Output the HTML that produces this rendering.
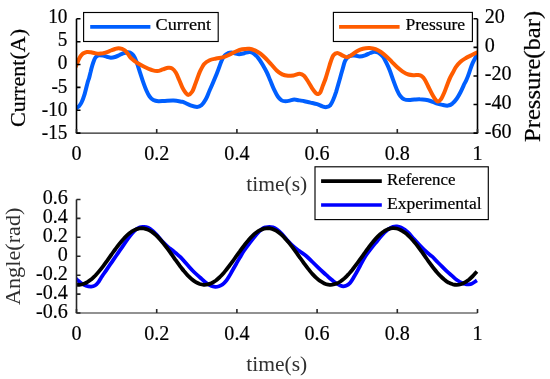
<!DOCTYPE html>
<html><head><meta charset="utf-8"><title>Current, Pressure and Angle</title>
<style>html,body{margin:0;padding:0;background:#fff}svg{display:block}text{font-family:"Liberation Serif",serif;stroke-width:.2px;paint-order:stroke}</style></head>
<body>
<svg width="550" height="379" viewBox="0 0 550 379">
<rect width="550" height="379" fill="#fff"/>
<clipPath id="c1"><rect x="76.8" y="10" width="400.9" height="125"/></clipPath><g fill="none" stroke-width="4" stroke-linejoin="round" clip-path="url(#c1)">
<path d="M75.3 108.3C75.6 108.2 76.5 107.9 77.1 107.6C77.7 107.2 78.3 107.0 79.0 106.2C79.7 105.4 80.5 104.6 81.5 102.5C82.5 100.4 83.7 97.1 84.7 93.8C85.7 90.5 86.8 85.5 87.5 82.9C88.2 80.3 88.6 79.8 89.1 78.0C89.6 76.2 90.0 74.2 90.6 72.0C91.1 69.8 91.8 67.0 92.4 65.1C93.0 63.2 93.5 61.8 94.0 60.5C94.5 59.2 95.0 58.2 95.6 57.4C96.2 56.6 96.9 56.1 97.5 55.8C98.1 55.4 98.5 55.3 99.4 55.3C100.3 55.3 101.7 55.4 103.0 55.6C104.3 55.9 105.7 56.4 107.0 56.8C108.3 57.1 109.6 57.7 110.9 57.7C112.2 57.7 113.7 57.4 115.0 57.0C116.3 56.6 117.7 55.9 119.0 55.3C120.3 54.7 121.6 53.9 123.0 53.4C124.4 52.9 126.1 52.4 127.3 52.2C128.5 52.1 129.0 52.0 130.0 52.5C131.0 53.0 132.2 53.8 133.3 55.3C134.4 56.8 135.4 59.0 136.5 61.8C137.6 64.5 138.7 68.5 139.8 71.8C140.9 75.1 142.0 78.7 143.1 81.8C144.2 84.9 145.3 88.0 146.4 90.5C147.5 93.0 148.4 94.9 149.6 96.5C150.8 98.1 151.9 99.3 153.4 100.1C154.9 100.9 156.5 101.1 158.4 101.2C160.3 101.3 162.4 101.0 164.9 100.9C167.4 100.8 170.9 100.5 173.6 100.6C176.3 100.7 179.6 101.4 181.3 101.7C183.0 102.0 182.5 101.7 184.0 102.3C185.5 102.9 188.3 104.5 190.5 105.3C192.7 106.1 195.3 106.9 197.1 106.9C198.9 106.9 199.9 106.6 201.4 105.3C202.9 104.0 204.4 101.8 205.8 99.3C207.2 96.8 208.3 93.4 209.6 90.5C210.9 87.6 212.1 85.0 213.4 81.8C214.7 78.6 216.2 75.0 217.6 71.5C219.0 68.0 220.4 63.4 221.6 60.7C222.8 58.0 223.8 56.6 224.9 55.3C226.0 54.0 227.1 53.6 228.2 53.1C229.3 52.6 230.3 52.5 231.4 52.5C232.5 52.5 233.7 52.9 235.0 53.2C236.3 53.5 237.5 54.2 239.1 54.2C240.7 54.2 242.6 53.6 244.3 53.2C246.0 52.8 247.9 51.9 249.5 52.0C251.1 52.1 252.4 52.6 253.8 53.6C255.2 54.6 256.8 56.2 258.2 58.0C259.6 59.8 261.1 62.1 262.5 64.5C263.9 66.9 265.6 69.9 266.9 72.5C268.2 75.1 269.0 77.5 270.2 80.3C271.4 83.1 272.7 86.7 274.0 89.4C275.3 92.1 276.5 94.7 277.8 96.5C279.1 98.3 280.3 99.6 281.6 100.4C282.9 101.2 284.0 101.2 285.4 101.2C286.8 101.2 288.3 100.9 289.8 100.6C291.3 100.3 292.6 99.6 294.2 99.6C295.8 99.6 297.9 100.1 299.6 100.4C301.3 100.7 302.7 100.9 304.5 101.3C306.3 101.7 308.4 102.1 310.5 102.6C312.6 103.1 315.1 103.6 317.1 104.2C319.1 104.8 320.9 105.9 322.5 106.4C324.1 106.9 325.1 107.3 326.4 107.1C327.7 106.9 329.0 106.6 330.2 105.3C331.4 104.0 332.4 101.6 333.4 99.3C334.4 97.0 335.2 94.6 336.2 91.6C337.1 88.6 338.1 85.0 339.1 81.5C340.1 78.0 341.2 73.9 342.2 70.5C343.2 67.1 344.0 63.5 344.9 61.3C345.8 59.1 346.7 58.3 347.6 57.4C348.5 56.5 349.4 56.1 350.5 55.8C351.6 55.5 352.7 55.4 354.2 55.5C355.7 55.6 357.8 56.4 359.6 56.4C361.4 56.4 363.3 55.9 365.1 55.3C366.9 54.7 368.8 53.6 370.3 53.0C371.9 52.4 373.0 51.8 374.4 51.8C375.8 51.8 377.2 52.0 378.7 52.9C380.1 53.8 381.8 55.2 383.1 56.9C384.4 58.6 385.3 60.7 386.4 62.9C387.5 65.1 388.4 67.0 389.6 70.0C390.8 73.0 392.3 77.6 393.5 80.9C394.7 84.2 395.9 87.5 397.0 90.0C398.1 92.5 399.1 94.5 400.3 96.0C401.5 97.5 402.7 98.6 404.1 99.3C405.6 100.0 407.3 100.1 409.0 100.1C410.7 100.1 412.6 99.6 414.4 99.5C416.2 99.4 418.1 99.2 419.9 99.3C421.7 99.3 423.5 99.5 425.3 99.8C427.1 100.1 428.6 100.4 430.5 101.0C432.4 101.6 434.4 102.6 436.4 103.3C438.4 104.0 440.5 104.5 442.4 104.9C444.3 105.3 446.3 105.8 448.0 105.6C449.7 105.4 450.9 104.8 452.4 103.6C453.8 102.4 455.3 100.6 456.7 98.7C458.1 96.8 459.3 94.5 460.5 92.2C461.7 89.9 462.8 87.3 463.8 85.1C464.9 82.9 465.9 81.2 466.8 79.0C467.8 76.8 468.6 74.4 469.5 71.8C470.4 69.2 471.5 65.7 472.5 63.4C473.5 61.1 474.5 59.5 475.3 58.0C476.1 56.5 476.5 55.7 477.1 54.7C477.7 53.7 478.5 52.3 478.8 51.8" stroke="#005fff"/>
<path d="M75.5 67.3C75.8 66.6 76.6 64.6 77.1 63.4C77.6 62.2 78.0 61.2 78.5 60.0C79.0 58.8 79.7 57.5 80.4 56.4C81.2 55.3 81.9 54.2 83.0 53.5C84.1 52.8 85.6 52.2 86.9 52.0C88.2 51.8 89.7 52.1 91.0 52.3C92.3 52.5 93.7 53.0 95.0 53.2C96.3 53.4 97.6 53.7 98.9 53.7C100.2 53.7 101.7 53.5 103.0 53.3C104.3 53.0 105.7 52.7 107.0 52.2C108.3 51.7 109.7 51.0 111.0 50.5C112.3 50.0 113.8 49.4 115.0 49.0C116.2 48.6 117.3 48.2 118.5 48.2C119.7 48.2 120.9 48.4 122.0 48.8C123.1 49.2 124.0 49.7 125.0 50.6C126.0 51.5 127.2 53.0 128.0 54.0C128.8 55.0 129.2 55.9 130.0 56.9C130.8 57.9 131.9 58.9 133.0 59.8C134.1 60.7 134.6 61.2 136.5 62.4C138.4 63.5 141.6 65.4 144.2 66.7C146.8 68.0 149.6 69.3 151.8 70.0C154.0 70.7 155.5 71.2 157.3 71.1C159.1 71.0 160.9 70.0 162.7 69.4C164.5 68.9 166.6 68.0 168.2 67.8C169.8 67.6 170.7 67.6 172.0 68.4C173.3 69.2 174.6 70.6 175.8 72.5C177.0 74.4 178.0 77.3 179.1 79.8C180.2 82.3 181.2 85.1 182.3 87.3C183.4 89.5 184.6 91.4 185.6 92.7C186.6 94.0 187.3 95.1 188.4 94.9C189.5 94.7 191.1 93.2 192.2 91.6C193.3 90.0 194.1 87.3 194.9 85.1C195.8 82.9 196.5 80.7 197.3 78.5C198.1 76.3 198.7 74.2 199.8 71.8C201.0 69.4 202.6 65.9 204.2 64.0C205.8 62.1 207.6 61.1 209.6 60.2C211.6 59.3 214.0 59.0 216.2 58.5C218.4 58.0 220.5 58.0 222.7 57.4C224.9 56.8 227.1 55.7 229.3 54.7C231.5 53.7 233.6 52.4 235.8 51.5C238.0 50.6 240.0 49.8 242.3 49.3C244.6 48.8 247.4 48.5 249.5 48.7C251.6 48.9 253.1 49.6 254.9 50.4C256.7 51.2 258.6 52.2 260.4 53.6C262.2 55.0 264.0 56.7 265.8 58.5C267.6 60.3 269.5 62.5 271.3 64.5C273.1 66.5 274.9 68.8 276.7 70.5C278.5 72.2 280.3 73.5 282.2 74.4C284.1 75.3 286.1 75.6 288.0 75.8C289.9 76.0 291.6 75.7 293.5 75.4C295.4 75.1 297.9 73.7 299.6 73.8C301.4 73.9 302.6 74.5 304.0 75.8C305.4 77.1 306.9 79.6 308.3 81.8C309.8 84.0 311.4 87.3 312.7 89.2C314.0 91.1 315.1 92.5 316.0 93.3C316.9 94.1 317.3 94.2 318.0 94.0C318.7 93.8 319.5 93.7 320.4 92.2C321.2 90.7 322.2 87.4 323.1 85.1C324.0 82.8 324.8 80.9 325.6 78.5C326.4 76.1 327.1 73.3 328.0 70.5C328.9 67.7 329.8 64.3 330.7 61.8C331.6 59.3 332.3 56.8 333.4 55.3C334.5 53.8 335.8 52.9 337.3 52.9C338.8 52.9 340.6 54.6 342.2 55.3C343.8 56.0 345.5 57.3 347.1 57.2C348.7 57.1 350.3 55.8 352.0 54.7C353.7 53.7 355.6 51.9 357.4 50.9C359.2 49.9 360.8 49.2 362.9 48.7C364.9 48.2 367.6 47.9 369.7 48.0C371.8 48.1 373.6 48.4 375.5 49.1C377.4 49.8 379.1 50.8 380.9 52.0C382.7 53.2 384.6 54.8 386.4 56.4C388.2 58.0 390.0 60.0 391.8 61.8C393.6 63.6 395.5 65.7 397.3 67.3C399.1 68.9 400.8 70.4 402.7 71.6C404.6 72.8 406.6 73.9 408.5 74.5C410.4 75.1 412.4 75.1 414.0 75.2C415.6 75.3 417.1 74.8 418.4 75.0C419.7 75.2 420.6 75.4 421.7 76.2C422.8 77.0 423.9 78.2 425.0 80.0C426.1 81.8 427.5 85.0 428.6 87.3C429.8 89.6 430.8 91.8 431.9 93.8C433.0 95.8 434.2 98.0 435.2 99.3C436.2 100.6 437.1 101.5 438.0 101.6C438.9 101.6 439.9 100.4 440.6 99.6C441.3 98.8 441.7 98.0 442.3 96.8C442.9 95.6 443.6 94.1 444.3 92.5C445.0 90.9 445.7 88.8 446.4 87.0C447.1 85.2 447.7 83.6 448.3 82.0C448.9 80.4 449.4 79.1 450.2 77.5C451.0 75.9 451.9 74.3 452.9 72.5C453.9 70.7 454.9 68.5 456.2 66.7C457.5 64.9 458.9 63.2 460.5 61.8C462.1 60.3 464.2 59.1 466.0 58.0C467.8 56.9 469.6 56.2 471.4 55.3C473.2 54.4 475.6 53.1 476.9 52.5C478.2 51.9 478.6 51.6 479.0 51.4" stroke="#ff5c00"/>
</g>
<g fill="none" stroke-width="1.6">
<path d="M75.8 133.1H478.2" stroke="#262626" stroke-width="1.1"/>
<path d="M76.5 18.8V133.1" stroke="#000"/>
<path d="M477.5 18.8V133.1" stroke="#000"/>
<path d="M76.5 133.1v-4M156.7 133.1v-4M236.9 133.1v-4M317.1 133.1v-4M397.3 133.1v-4M477.5 133.1v-4" stroke="#262626"/>
<path d="M76.5 18.8h4M76.5 41.7h4M76.5 64.5h4M76.5 87.4h4M76.5 110.2h4M76.5 133.1h4M477.5 18.8h-4M477.5 47.4h-4M477.5 76.0h-4M477.5 104.5h-4M477.5 133.1h-4" stroke="#000"/>
</g>
<rect x="83.6" y="12.5" width="134.6" height="29" fill="#fff" stroke="#000" stroke-width="1.15"/>
<path d="M90.2 26.9H150.4" stroke="#005fff" stroke-width="3.7"/>
<text x="155.5" y="30.4" font-size="17.2" textLength="55.7" lengthAdjust="spacingAndGlyphs" fill="#000" stroke="#000">Current</text>
<rect x="333.4" y="12.4" width="139" height="29.1" fill="#fff" stroke="#000" stroke-width="1.15"/>
<path d="M339.1 26.9H399.6" stroke="#ff5c00" stroke-width="3.7"/>
<text x="405.4" y="30.3" font-size="17.2" textLength="59.8" lengthAdjust="spacingAndGlyphs" fill="#000" stroke="#000">Pressure</text>
<g font-size="20.5" fill="#000" text-anchor="end" stroke="#000">
<text transform="translate(67.5 23.1) scale(.94 1)" fill="#000" stroke="#000">10</text>
<text transform="translate(67.5 46.2) scale(.94 1)" fill="#000" stroke="#000">5</text>
<text transform="translate(67.5 69.3) scale(.94 1)" fill="#000" stroke="#000">0</text>
<text transform="translate(67.5 92.5) scale(.94 1)" fill="#000" stroke="#000">-5</text>
<text transform="translate(67.5 115.6) scale(.94 1)" fill="#000" stroke="#000">-10</text>
<text transform="translate(67.5 138.7) scale(.94 1)" fill="#000" stroke="#000">-15</text>
</g>
<g font-size="20.5" fill="#000" stroke="#000">
<text transform="translate(484.8 23.2) scale(.98 1)" fill="#000" stroke="#000">20</text>
<text transform="translate(484.8 51.8) scale(.98 1)" fill="#000" stroke="#000">0</text>
<text transform="translate(484.8 80.4) scale(.98 1)" fill="#000" stroke="#000">-20</text>
<text transform="translate(484.8 108.9) scale(.98 1)" fill="#000" stroke="#000">-40</text>
<text transform="translate(484.8 137.5) scale(.98 1)" fill="#000" stroke="#000">-60</text>
</g>
<g font-size="21.2" fill="#303030" text-anchor="middle">
<text transform="translate(76.5 159.8) scale(.95 1)" fill="#000" stroke="#000">0</text>
<text transform="translate(156.7 159.8) scale(.95 1)" fill="#000" stroke="#000">0.2</text>
<text transform="translate(236.9 159.8) scale(.95 1)" fill="#000" stroke="#000">0.4</text>
<text transform="translate(317.1 159.8) scale(.95 1)" fill="#000" stroke="#000">0.6</text>
<text transform="translate(397.3 159.8) scale(.95 1)" fill="#000" stroke="#000">0.8</text>
<text transform="translate(477.5 159.8) scale(.95 1)" fill="#000" stroke="#000">1</text>
</g>
<text x="276.8" y="191.3" font-size="21.5" fill="#303030" text-anchor="middle" textLength="61" lengthAdjust="spacingAndGlyphs">time(s)</text>
<text transform="translate(24.6 78) rotate(-90)" font-size="21.3" fill="#000" text-anchor="middle" textLength="98" lengthAdjust="spacingAndGlyphs" stroke="#000">Current(A)</text>
<text transform="translate(539.6 76.4) rotate(-90)" font-size="23" fill="#000" text-anchor="middle" textLength="131" lengthAdjust="spacingAndGlyphs" stroke="#000">Pressure(bar)</text>
<clipPath id="c2"><rect x="76.8" y="190" width="420" height="125"/></clipPath><g fill="none" stroke-width="3.8" stroke-linejoin="round" clip-path="url(#c2)">
<path d="M75.3 278.2C75.6 278.5 76.1 279.0 77.1 279.8C78.0 280.6 79.5 282.0 81.0 283.0C82.5 284.0 84.3 285.2 86.0 285.8C87.7 286.4 89.8 286.7 91.3 286.6C92.8 286.6 93.9 286.2 95.0 285.5C96.1 284.8 97.0 283.9 98.0 282.6C99.0 281.4 100.0 279.5 101.0 278.0C102.0 276.5 102.8 275.2 104.0 273.5C105.2 271.8 106.7 269.6 108.0 267.6C109.3 265.7 110.7 263.7 112.0 261.8C113.3 259.9 114.7 257.9 116.0 256.0C117.3 254.1 118.7 252.1 120.0 250.2C121.3 248.3 122.7 246.3 124.0 244.4C125.3 242.5 126.7 240.5 128.0 238.7C129.3 236.9 130.7 235.0 132.0 233.5C133.3 232.0 134.7 230.5 136.0 229.5C137.3 228.5 138.8 227.8 140.0 227.3C141.2 226.9 142.4 226.9 143.4 226.8C144.4 226.8 144.9 226.7 146.0 227.0C147.1 227.3 148.3 227.6 150.0 228.8C151.7 230.0 154.0 232.0 156.0 234.0C158.0 236.0 160.0 238.9 162.0 241.0C164.0 243.1 166.3 245.3 168.0 246.8C169.7 248.3 170.7 248.9 172.0 250.0C173.3 251.1 174.8 252.3 176.0 253.3C177.2 254.3 178.3 255.3 179.3 256.2C180.3 257.1 180.6 257.2 182.0 258.8C183.4 260.4 186.0 263.3 188.0 265.5C190.0 267.7 192.0 270.0 194.0 272.0C196.0 274.0 198.0 275.7 200.0 277.5C202.0 279.3 204.2 281.4 206.0 282.8C207.8 284.2 209.4 285.1 211.0 285.8C212.6 286.5 214.0 286.7 215.3 286.8C216.6 286.9 217.8 286.6 219.0 286.2C220.2 285.8 221.3 285.4 222.5 284.5C223.7 283.6 224.9 282.3 226.0 281.0C227.1 279.7 228.0 278.1 229.0 276.5C230.0 274.9 230.8 273.4 232.0 271.3C233.2 269.2 234.6 266.7 236.0 264.2C237.4 261.7 239.4 258.4 240.7 256.2C242.0 254.0 242.2 253.3 243.8 251.0C245.4 248.7 247.9 245.2 250.0 242.5C252.1 239.8 254.4 236.8 256.4 234.5C258.4 232.2 260.4 230.2 262.0 229.0C263.6 227.8 264.8 227.6 266.0 227.2C267.2 226.8 268.2 226.8 269.4 226.8C270.6 226.8 271.7 227.0 273.0 227.4C274.3 227.8 275.5 228.4 277.0 229.5C278.5 230.6 280.2 232.1 282.0 234.0C283.8 235.9 286.0 238.8 288.0 241.0C290.0 243.2 292.0 245.2 294.0 247.0C296.0 248.8 297.9 250.0 300.0 251.5C302.1 253.0 304.5 254.5 306.5 256.2C308.5 257.9 310.1 259.6 312.0 261.5C313.9 263.4 316.0 265.4 318.0 267.3C320.0 269.2 322.3 271.4 324.0 273.0C325.7 274.6 326.7 275.4 328.0 276.6C329.3 277.8 330.5 278.8 332.0 280.0C333.5 281.2 335.3 282.8 337.0 283.8C338.7 284.8 340.5 285.9 342.0 286.2C343.5 286.5 344.7 286.3 346.0 285.8C347.3 285.3 348.6 284.6 350.0 283.0C351.4 281.4 352.8 278.8 354.5 276.0C356.2 273.2 358.2 269.3 360.0 266.0C361.8 262.7 363.4 259.3 365.4 256.2C367.4 253.1 370.2 249.6 372.0 247.3C373.8 245.0 374.3 244.5 376.0 242.5C377.7 240.5 380.0 237.3 382.0 235.2C384.0 233.0 386.2 231.0 388.0 229.6C389.8 228.2 391.5 227.3 393.0 226.8C394.5 226.3 395.7 226.3 397.0 226.4C398.3 226.5 399.7 226.8 401.0 227.4C402.3 228.0 403.8 229.0 405.0 229.8C406.2 230.6 406.5 230.9 408.0 232.4C409.5 233.9 412.0 236.8 414.0 239.0C416.0 241.2 418.0 243.4 420.0 245.5C422.0 247.6 424.0 249.7 426.0 251.5C428.0 253.3 430.4 255.0 432.0 256.4C433.6 257.8 434.2 258.6 435.5 260.0C436.8 261.4 438.2 262.7 440.0 264.5C441.8 266.3 444.3 268.9 446.4 270.9C448.5 272.9 450.9 274.8 452.7 276.4C454.5 278.0 455.8 279.2 457.3 280.3C458.9 281.4 460.7 282.4 462.0 283.0C463.3 283.6 464.0 283.8 465.0 284.0C466.0 284.2 467.0 284.5 468.2 284.4C469.4 284.3 470.6 284.3 472.0 283.6C473.4 282.9 476.1 280.9 476.9 280.4" stroke="#0000ff"/>
<path d="M75.3 284.4C76.0 284.5 78.0 284.8 79.3 284.8C80.7 284.7 82.0 284.5 83.3 284.0C84.7 283.6 86.0 282.9 87.3 282.1C88.7 281.4 90.0 280.4 91.4 279.3C92.7 278.1 94.0 276.9 95.4 275.5C96.7 274.1 98.1 272.5 99.4 270.9C100.7 269.3 102.1 267.5 103.4 265.8C104.8 264.0 106.1 262.1 107.4 260.3C108.8 258.4 110.1 256.5 111.4 254.6C112.8 252.7 114.1 250.8 115.5 249.0C116.8 247.2 118.1 245.4 119.5 243.7C120.8 242.1 122.2 240.4 123.5 239.0C124.8 237.5 126.2 236.1 127.5 234.9C128.8 233.7 130.2 232.6 131.5 231.7C132.9 230.8 134.2 230.0 135.5 229.5C136.9 228.9 138.2 228.5 139.6 228.3C140.9 228.2 142.2 228.2 143.6 228.3C144.9 228.5 146.2 228.9 147.6 229.5C148.9 230.0 150.3 230.8 151.6 231.6C152.9 232.5 154.3 233.6 155.6 234.8C157.0 236.0 158.3 237.4 159.6 238.9C161.0 240.4 162.3 242.0 163.7 243.7C165.0 245.3 166.3 247.1 167.7 248.9C169.0 250.7 170.3 252.6 171.7 254.5C173.0 256.4 174.4 258.3 175.7 260.2C177.0 262.0 178.4 263.9 179.7 265.7C181.1 267.4 182.4 269.2 183.7 270.8C185.1 272.4 186.4 274.0 187.7 275.4C189.1 276.8 190.4 278.1 191.8 279.2C193.1 280.3 194.4 281.3 195.8 282.1C197.1 282.9 198.5 283.5 199.8 284.0C201.1 284.4 202.5 284.7 203.8 284.8C205.2 284.9 206.5 284.7 207.8 284.4C209.2 284.1 210.5 283.6 211.8 283.0C213.2 282.3 214.5 281.5 215.9 280.5C217.2 279.5 218.5 278.3 219.9 277.0C221.2 275.7 222.6 274.2 223.9 272.7C225.2 271.1 226.6 269.5 227.9 267.7C229.2 266.0 230.6 264.2 231.9 262.4C233.3 260.5 234.6 258.6 235.9 256.7C237.3 254.8 238.6 252.9 240.0 251.1C241.3 249.2 242.6 247.4 244.0 245.7C245.3 243.9 246.6 242.2 248.0 240.7C249.3 239.1 250.7 237.7 252.0 236.3C253.3 235.0 254.7 233.8 256.0 232.8C257.4 231.8 258.7 230.9 260.0 230.2C261.4 229.5 262.7 229.0 264.1 228.6C265.4 228.3 266.7 228.2 268.1 228.2C269.4 228.3 270.7 228.5 272.1 228.9C273.4 229.3 274.8 229.9 276.1 230.7C277.4 231.5 278.8 232.4 280.1 233.5C281.5 234.6 282.8 235.9 284.1 237.3C285.5 238.7 286.8 240.2 288.1 241.8C289.5 243.4 290.8 245.1 292.2 246.9C293.5 248.7 294.8 250.5 296.2 252.4C297.5 254.3 298.9 256.2 300.2 258.0C301.5 259.9 302.9 261.8 304.2 263.6C305.6 265.5 306.9 267.3 308.2 268.9C309.6 270.6 310.9 272.3 312.2 273.7C313.6 275.2 314.9 276.6 316.3 277.9C317.6 279.1 318.9 280.2 320.3 281.1C321.6 282.1 323.0 282.8 324.3 283.4C325.6 284.0 327.0 284.4 328.3 284.6C329.6 284.8 331.0 284.9 332.3 284.7C333.7 284.5 335.0 284.2 336.3 283.6C337.7 283.1 339.0 282.4 340.4 281.5C341.7 280.6 343.0 279.6 344.4 278.4C345.7 277.2 347.0 275.8 348.4 274.4C349.7 272.9 351.1 271.3 352.4 269.7C353.7 268.0 355.1 266.2 356.4 264.4C357.8 262.6 359.1 260.7 360.4 258.8C361.8 257.0 363.1 255.1 364.5 253.2C365.8 251.3 367.1 249.4 368.5 247.7C369.8 245.9 371.1 244.1 372.5 242.5C373.8 240.9 375.2 239.3 376.5 237.9C377.8 236.5 379.2 235.2 380.5 234.0C381.9 232.9 383.2 231.9 384.5 231.0C385.9 230.2 387.2 229.6 388.5 229.1C389.9 228.6 391.2 228.3 392.6 228.2C393.9 228.1 395.2 228.2 396.6 228.5C397.9 228.8 399.3 229.3 400.6 229.9C401.9 230.5 403.3 231.4 404.6 232.4C406.0 233.3 407.3 234.5 408.6 235.8C410.0 237.1 411.3 238.5 412.6 240.0C414.0 241.6 415.3 243.2 416.7 244.9C418.0 246.7 419.3 248.5 420.7 250.3C422.0 252.1 423.4 254.0 424.7 255.9C426.0 257.8 427.4 259.7 428.7 261.6C430.0 263.4 431.4 265.3 432.7 267.0C434.1 268.7 435.4 270.5 436.7 272.0C438.1 273.6 439.4 275.1 440.8 276.4C442.1 277.8 443.4 279.0 444.8 280.0C446.1 281.1 447.4 282.0 448.8 282.7C450.1 283.4 451.5 283.9 452.8 284.3C454.1 284.6 455.5 284.8 456.8 284.8C458.2 284.8 459.5 284.6 460.8 284.2C462.2 283.8 463.5 283.2 464.9 282.4C466.2 281.7 467.5 280.7 468.9 279.7C470.2 278.6 471.5 277.3 472.9 276.0C474.2 274.6 476.2 272.2 476.9 271.5" stroke="#000"/>
</g>
<g fill="none" stroke-width="1.6" stroke="#262626">
<path d="M75.8 313.0H477.5" stroke-width="1.1"/>
<path d="M76.5 199.5V313.0"/>
<path d="M76.5 313.0v-4M156.7 313.0v-4M236.9 313.0v-4M317.1 313.0v-4M397.3 313.0v-4M477.5 313.0v-4M76.5 199.5h4M76.5 218.4h4M76.5 237.3h4M76.5 256.2h4M76.5 275.2h4M76.5 294.1h4M76.5 313.0h4"/>
</g>
<rect x="315" y="166.8" width="173.3" height="52.8" fill="#fff" stroke="#000" stroke-width="1.15"/>
<path d="M321.1 181.2H381.8" stroke="#000" stroke-width="3.7"/>
<path d="M321.1 205H381.8" stroke="#0000ff" stroke-width="3.7"/>
<text x="387" y="184.6" font-size="17.2" textLength="68.4" lengthAdjust="spacingAndGlyphs" fill="#000" stroke="#000">Reference</text>
<text x="387" y="208.8" font-size="17.2" textLength="94.6" lengthAdjust="spacingAndGlyphs" fill="#000" stroke="#000">Experimental</text>
<g font-size="21.2" fill="#303030" text-anchor="end">
<text transform="translate(67.8 204.3) scale(.95 1)" fill="#000" stroke="#000">0.6</text>
<text transform="translate(67.8 223.2) scale(.95 1)" fill="#000" stroke="#000">0.4</text>
<text transform="translate(67.8 242.1) scale(.95 1)" fill="#000" stroke="#000">0.2</text>
<text transform="translate(67.8 261.1) scale(.95 1)" fill="#000" stroke="#000">0</text>
<text transform="translate(67.8 280.0) scale(.95 1)" fill="#000" stroke="#000">-0.2</text>
<text transform="translate(67.8 298.9) scale(.95 1)" fill="#000" stroke="#000">-0.4</text>
<text transform="translate(67.8 317.8) scale(.95 1)" fill="#000" stroke="#000">-0.6</text>
</g>
<g font-size="21.2" fill="#303030" text-anchor="middle">
<text transform="translate(76.5 339.6) scale(.95 1)" fill="#000" stroke="#000">0</text>
<text transform="translate(156.7 339.6) scale(.95 1)" fill="#000" stroke="#000">0.2</text>
<text transform="translate(236.9 339.6) scale(.95 1)" fill="#000" stroke="#000">0.4</text>
<text transform="translate(317.1 339.6) scale(.95 1)" fill="#000" stroke="#000">0.6</text>
<text transform="translate(397.3 339.6) scale(.95 1)" fill="#000" stroke="#000">0.8</text>
<text transform="translate(477.5 339.6) scale(.95 1)" fill="#000" stroke="#000">1</text>
</g>
<text x="276.8" y="371" font-size="21.5" fill="#303030" text-anchor="middle" textLength="61" lengthAdjust="spacingAndGlyphs">time(s)</text>
<text transform="translate(19.5 256.3) rotate(-90)" font-size="21.3" fill="#303030" text-anchor="middle" textLength="97.5" lengthAdjust="spacingAndGlyphs">Angle(rad)</text>
</svg></body></html>
